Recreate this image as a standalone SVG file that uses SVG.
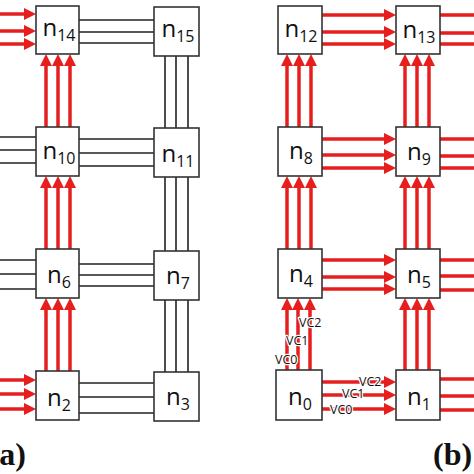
<svg xmlns="http://www.w3.org/2000/svg" width="474" height="474" viewBox="0 0 474 474">
<style>
.box{fill:#fff;stroke:#333;stroke-width:1.6}
.lbl{font-family:"Open Sans","Noto Sans",sans-serif;font-size:24px;fill:#111;text-anchor:middle}
.sub{font-size:16px}
.blk{stroke:#222;stroke-width:1.6;fill:none}
.red{stroke:#e61e1e;stroke-width:3.5;fill:none}
.arr{marker-end:url(#ah)}
.vc{font-family:"Open Sans","Noto Sans",sans-serif;font-size:12.5px;fill:#111;stroke:#fff;stroke-width:2.5;paint-order:stroke;stroke-linejoin:round}
.cap{font-family:"Liberation Serif","Times New Roman",serif;font-weight:bold;font-size:32px;fill:#111}
</style>
<defs>
<marker id="ah" markerUnits="userSpaceOnUse" markerWidth="12" markerHeight="12" refX="0" refY="6" orient="auto" viewBox="0 0 12 12">
<path d="M0,0 L12,6 L0,12 z" fill="#e61e1e"/>
</marker>
</defs>
<rect width="474" height="474" fill="#fff"/>
<g id="connectors">
<path class="blk" d="M79,20H154M79,32H154M79,43H154"/>
<path class="blk" d="M79,139H154M79,153H154M79,166H154M0,137H36M0,150H36M0,163H36"/>
<path class="blk" d="M79,264H154M79,275H154M79,286H154M0,260H36M0,274H36M0,289H36"/>
<path class="blk" d="M79,383H154M79,397H154M79,413H154"/>
<path class="blk" d="M165,56V128M176,56V128M188,56V128"/>
<path class="blk" d="M165,177V251M176,177V251M188,177V251"/>
<path class="blk" d="M165,300V372M176,300V372M188,300V372"/>
<g class="red arr">
<line x1="0" y1="14" x2="24" y2="14"/><line x1="0" y1="31" x2="24" y2="31"/><line x1="0" y1="44" x2="24" y2="44"/>
<line x1="0" y1="380" x2="24" y2="380"/><line x1="0" y1="394" x2="24" y2="394"/><line x1="0" y1="409" x2="24" y2="409"/>
<line x1="46" y1="127" x2="46" y2="66"/><line x1="58" y1="127" x2="58" y2="66"/><line x1="70" y1="127" x2="70" y2="66"/>
<line x1="46" y1="249" x2="46" y2="188"/><line x1="58" y1="249" x2="58" y2="188"/><line x1="70" y1="249" x2="70" y2="188"/>
<line x1="46" y1="371" x2="46" y2="310"/><line x1="58" y1="371" x2="58" y2="310"/><line x1="70" y1="371" x2="70" y2="310"/>
</g>
<g class="red arr">
<line x1="322" y1="15" x2="384" y2="15"/><line x1="322" y1="32" x2="384" y2="32"/><line x1="322" y1="44" x2="384" y2="44"/>
<line x1="322" y1="139" x2="384" y2="139"/><line x1="322" y1="155" x2="384" y2="155"/><line x1="322" y1="168" x2="384" y2="168"/>
<line x1="322" y1="260" x2="384" y2="260"/><line x1="322" y1="277" x2="384" y2="277"/><line x1="322" y1="289" x2="384" y2="289"/>
<line x1="322" y1="382" x2="384" y2="382"/><line x1="322" y1="395" x2="384" y2="395"/><line x1="322" y1="409" x2="384" y2="409"/>
<line x1="287" y1="127" x2="287" y2="66"/><line x1="299" y1="127" x2="299" y2="66"/><line x1="311" y1="127" x2="311" y2="66"/>
<line x1="287" y1="249" x2="287" y2="188"/><line x1="299" y1="249" x2="299" y2="188"/><line x1="311" y1="249" x2="311" y2="188"/>
<line x1="287" y1="370" x2="287" y2="310"/><line x1="298" y1="370" x2="298" y2="310"/><line x1="310" y1="370" x2="310" y2="310"/>
<line x1="405" y1="127" x2="405" y2="66"/><line x1="417" y1="127" x2="417" y2="66"/><line x1="429" y1="127" x2="429" y2="66"/>
<line x1="405" y1="249" x2="405" y2="188"/><line x1="417" y1="249" x2="417" y2="188"/><line x1="429" y1="249" x2="429" y2="188"/>
<line x1="405" y1="370" x2="405" y2="310"/><line x1="417" y1="370" x2="417" y2="310"/><line x1="429" y1="370" x2="429" y2="310"/>
</g>
<path class="red" d="M440,15H474M440,33H474M440,44H474M440,139H474M440,156H474M440,168H474M440,260H474M440,276H474M440,290H474M440,379H474M440,396H474M440,410H474"/>
<text class="vc" x="299" y="327">VC2</text>
<text class="vc" x="286" y="345">VC1</text>
<text class="vc" x="275" y="364">VC0</text>
<text class="vc" x="359" y="386">VC2</text>
<text class="vc" x="342" y="398">VC1</text>
<text class="vc" x="330" y="414">VC0</text>
</g>
<g id="n14"><rect class="box" x="36" y="6" width="43" height="48"/><text class="lbl" x="59" y="36">n<tspan class="sub" dy="5">14</tspan></text></g>
<g id="n15"><rect class="box" x="154" y="7" width="45" height="49"/><text class="lbl" x="178" y="37">n<tspan class="sub" dy="5">15</tspan></text></g>
<g id="n10"><rect class="box" x="36" y="127" width="43" height="49"/><text class="lbl" x="59" y="159">n<tspan class="sub" dy="5">10</tspan></text></g>
<g id="n11"><rect class="box" x="154" y="128" width="45" height="49"/><text class="lbl" x="178" y="162">n<tspan class="sub" dy="5">11</tspan></text></g>
<g id="n6"><rect class="box" x="36" y="249" width="43" height="49"/><text class="lbl" x="59" y="283">n<tspan class="sub" dy="5">6</tspan></text></g>
<g id="n7"><rect class="box" x="154" y="251" width="45" height="49"/><text class="lbl" x="178" y="284">n<tspan class="sub" dy="5">7</tspan></text></g>
<g id="n2"><rect class="box" x="36" y="371" width="43" height="49"/><text class="lbl" x="59" y="406">n<tspan class="sub" dy="5">2</tspan></text></g>
<g id="n3"><rect class="box" x="154" y="372" width="45" height="49"/><text class="lbl" x="178" y="405">n<tspan class="sub" dy="5">3</tspan></text></g>
<g id="n12"><rect class="box" x="278" y="6" width="44" height="48"/><text class="lbl" x="301" y="37">n<tspan class="sub" dy="5">12</tspan></text></g>
<g id="n13"><rect class="box" x="396" y="6" width="44" height="48"/><text class="lbl" x="419" y="38">n<tspan class="sub" dy="5">13</tspan></text></g>
<g id="n8"><rect class="box" x="278" y="127" width="44" height="49"/><text class="lbl" x="301" y="159">n<tspan class="sub" dy="5">8</tspan></text></g>
<g id="n9"><rect class="box" x="396" y="127" width="44" height="49"/><text class="lbl" x="419" y="160">n<tspan class="sub" dy="5">9</tspan></text></g>
<g id="n4"><rect class="box" x="278" y="249" width="44" height="49"/><text class="lbl" x="301" y="282">n<tspan class="sub" dy="5">4</tspan></text></g>
<g id="n5"><rect class="box" x="396" y="249" width="44" height="49"/><text class="lbl" x="419" y="283">n<tspan class="sub" dy="5">5</tspan></text></g>
<g id="n0"><rect class="box" x="276" y="370" width="46" height="50"/><text class="lbl" x="300" y="405">n<tspan class="sub" dy="5">0</tspan></text></g>
<g id="n1"><rect class="box" x="396" y="370" width="44" height="50"/><text class="lbl" x="419" y="405">n<tspan class="sub" dy="5">1</tspan></text></g>
<text class="cap" x="26" y="465" text-anchor="end">a)</text>
<text class="cap" x="433" y="465">(b)</text>
</svg>
